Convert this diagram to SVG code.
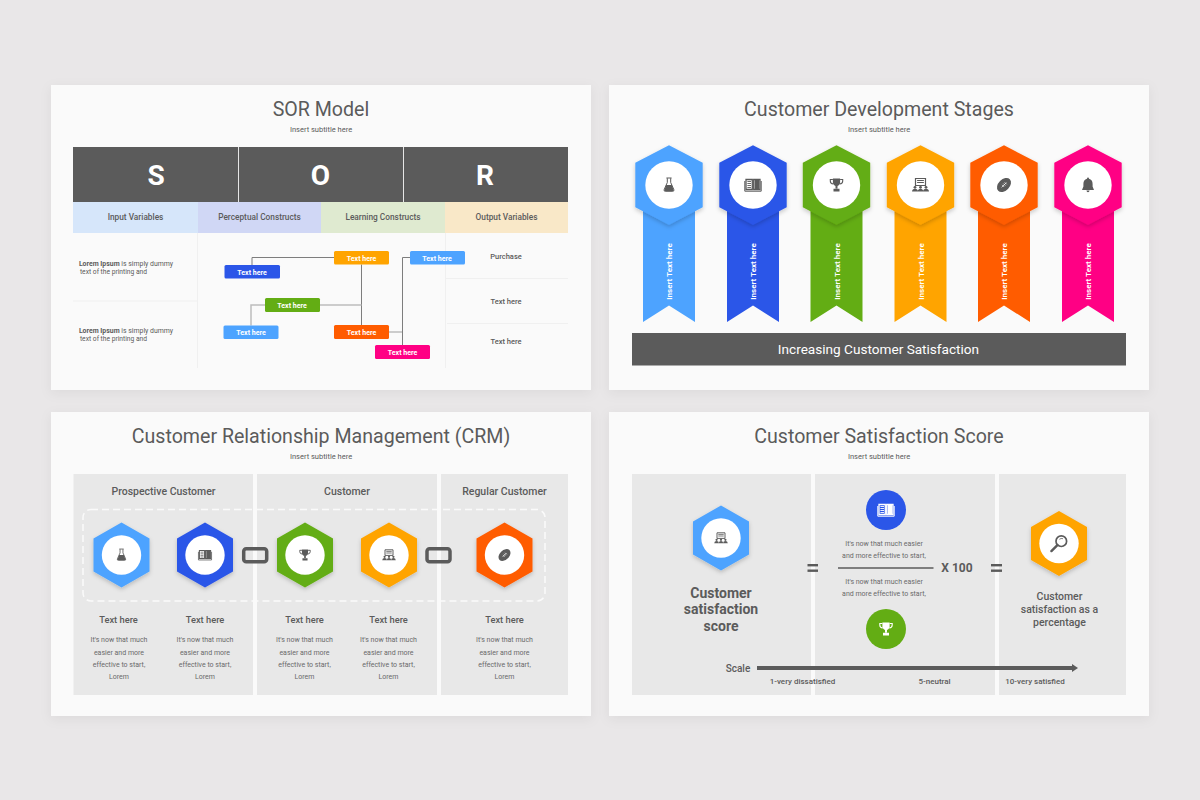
<svg xmlns="http://www.w3.org/2000/svg" xmlns:xlink="http://www.w3.org/1999/xlink" width="1200" height="800" viewBox="0 0 1200 800">
<style>
text{font-family:Roboto,"Liberation Sans",sans-serif;fill:#5b5b5b;text-anchor:middle}
.panel{fill:#fafafa;filter:url(#pshadow)}
.title{font-size:19.6px}
.sub{font-size:7.5px}
.dark{fill:#5b5b5b}
.col{fill:#e8e8e8}
.big{font-size:28px;font-weight:700;fill:#fff}
.sh{font-size:8.300px;font-weight:500}
.grid{stroke:#f0f0f0;stroke-width:1;fill:none}
.box{font-size:7px;font-weight:700;fill:#fff}
.conn{stroke:#7d7d7d;stroke-width:1;fill:none}
.connl{stroke:#bdbdbd;stroke-width:1.5;fill:none}
.lt{font-size:6.900px;font-weight:400}
.lt2{font-size:6.700px;font-weight:400}
.ltb{font-weight:700}
.rt{font-size:7.500px;font-weight:500}
.rib{font-size:8px;font-weight:700;fill:#fff}
.head{font-size:10.500px;font-weight:500}
.lab{font-size:9.300px;font-weight:500}
.body{font-size:7px;fill:#6a6a6a}
.link{fill:none;stroke:#5b5b5b;stroke-width:3.5}
.big3{font-size:14px;font-weight:700}
.mid3{font-size:10.5px;font-weight:500}
.scale{font-size:8px;font-weight:500}
</style>
<defs>
<filter id="pshadow" x="-5%" y="-5%" width="110%" height="112%"><feDropShadow dx="0" dy="3" stdDeviation="6" flood-color="#000" flood-opacity="0.06"/></filter>
<filter id="hs" x="-20%" y="-20%" width="140%" height="140%"><feDropShadow dx="0" dy="2" stdDeviation="2" flood-color="#000" flood-opacity="0.2"/></filter>
<marker id="arr" markerUnits="userSpaceOnUse" markerWidth="8" markerHeight="10" refX="1" refY="4" orient="auto"><path d="M0 0L6 4L0 8z" fill="#5b5b5b"/></marker>
<polygon id="hex" points="0,-32.5 28,-16.5 28,16.5 0,32.5 -28,16.5 -28,-16.5"/>
<polygon id="hexl" points="0,-39.7 33.7,-22.3 33.7,22.3 0,39.7 -33.7,22.3 -33.7,-22.3"/>
<polygon id="rib" points="-26,0 26,0 26,112 0,95.5 -26,112"/>
<g id="flask"><path d="M-2.6 -7h5.2M-1.7 -6.8v4.3L-4.8 4.5q-.6 1.8 1 1.8h7.6q1.6 0 1-1.8L1.7 -2.5v-4.3" fill="none" stroke="currentColor" stroke-width="1"/><path d="M-2.8 0h5.6L4.6 4.8q.3 1.2-.8 1.2h-7.6q-1.1 0-.8-1.2z" fill="currentColor"/></g>
<g id="book"><path d="M-7 -5.5h6.3v10H-7zM.7 -5.5H7v10H.7z" fill="none" stroke="currentColor" stroke-width="1.3"/><path d="M-5.6 -3.5h3.6M-5.6 -1.5h3.6M-5.6 .5h3.6M-5.6 2.5h3.6" stroke="currentColor" stroke-width=".9"/><path d="M1.6 -5h4.8v9H1.6z" fill="currentColor"/><path d="M-8.2 -4v10.2h16.4V-4" fill="none" stroke="currentColor" stroke-width="1"/></g>
<g id="trophy"><path d="M-3.6 -6.5h7.2v3.8q0 3.2-3.6 4q-3.6-.8-3.6-4z" fill="currentColor"/><path d="M-3.6 -5.5h-2.6v1.5q0 2.6 3 3M3.6 -5.5h2.6v1.5q0 2.6-3 3" fill="none" stroke="currentColor" stroke-width="1.1"/><path d="M-1 1h2v2.5h-2zM-3 3.8h6v2.7h-6z" fill="currentColor"/></g>
<g id="net"><path d="M-5 -6.5h10v7h-10z" fill="none" stroke="currentColor" stroke-width="1.2"/><path d="M-3.4 -4.5h6.8M-3.4 -2.5h6.8" stroke="currentColor" stroke-width="1"/><circle cx="-5.5" cy="2.3" r="1.4" fill="currentColor"/><circle cx="0" cy="2.3" r="1.4" fill="currentColor"/><circle cx="5.5" cy="2.3" r="1.4" fill="currentColor"/><path d="M-8.5 6.5q.3-2.8 3-2.8t3 2.8zM-2.8 6.5q.3-2.8 2.8-2.8t2.8 2.8zM2.5 6.5q.3-2.8 3-2.8t3 2.8z" fill="currentColor"/></g>
<g id="ball"><ellipse rx="8.200" ry="5.600" transform="rotate(-45)" fill="currentColor"/><path d="M-2.4 2.4L2.4 -2.4M-1.9 -.1l2 2M-.6 -1.4l2 2M.7 -2.7l2 2" stroke="#fff" stroke-width=".7"/></g>
<g id="bell"><path d="M0 -7.5q1 0 1 1.2q3.6 1 3.6 5.2v2.6L6 5H-6L-4.6 1.5v-2.6q0-4.2 3.6-5.2q0-1.2 1-1.2zM-1.6 5.6h3.2q-.3 1.6-1.6 1.6t-1.6-1.6z" fill="currentColor"/></g>
<g id="mag"><circle cx="2.3" cy="-2.3" r="5.3" fill="none" stroke="currentColor" stroke-width="1.7"/><path d="M-1.6 1.6L-7.6 7.6" stroke="currentColor" stroke-width="2.4" stroke-linecap="round"/><path d="M.4 -4.2q1.6-1.3 3.6-.6" fill="none" stroke="currentColor" stroke-width=".8"/></g>
</defs>

<rect width="1200" height="800" fill="#e9e7e8"/>

<g id="panel-sor">
<rect class="panel" x="51" y="85" width="540" height="305"/>
<text class="title" x="321" y="116">SOR Model</text>
<text class="sub" x="321" y="132">Insert subtitle here</text>
<rect class="dark" x="73" y="147" width="495" height="55"/>
<path d="M238.5 147V202M403.5 147V202" stroke="#e6e6e6" stroke-width="1"/>
<text class="big" x="156" y="184.500">S</text>
<text class="big" x="320.500" y="184.500">O</text>
<text class="big" x="485" y="184.500">R</text>
<rect x="73" y="202" width="125" height="31" fill="#d6e6fa"/>
<rect x="198" y="202" width="123" height="31" fill="#d0d7f5"/>
<rect x="321" y="202" width="124" height="31" fill="#dfead0"/>
<rect x="445" y="202" width="123" height="31" fill="#f9e8c8"/>
<text class="sh" x="135.500" y="220.300">Input Variables</text>
<text class="sh" x="259.500" y="220.300">Perceptual Constructs</text>
<text class="sh" x="383" y="220.300">Learning Constructs</text>
<text class="sh" x="506.500" y="220.300">Output Variables</text>
<path class="grid" d="M197.500 233V368M445.500 233V368M73 301H197M445 278.500H568M447 323.500H568"/>
<text x="126" y="266" class="lt"><tspan class="ltb">Lorem Ipsum</tspan> is simply dummy</text>
<text x="113.500" y="274" class="lt2">text of the printing and</text>
<text x="126" y="333" class="lt"><tspan class="ltb">Lorem Ipsum</tspan> is simply dummy</text>
<text x="113.500" y="341" class="lt2">text of the printing and</text>
<text class="rt" x="506" y="258.500">Purchase</text>
<text class="rt" x="506" y="303.500">Text here</text>
<text class="rt" x="506" y="344">Text here</text>
</g>

<g id="sor-connectors">
<path class="conn" d="M252 265V257.500H334"/>
<path class="conn" d="M361.500 264.500V325"/>
<path class="connl" d="M320 305H361.500"/>
<path class="connl" d="M265 305H251V325.500"/>
<path class="connl" d="M389 332H402.500"/>
<path class="conn" d="M402.500 345V257.500H410"/>
</g>

<g id="sor-n1"><rect x="334" y="251" width="55" height="13.500" rx="1.500" fill="#ffa400"/><text class="box" x="361.500" y="260.500">Text here</text></g>
<g id="sor-n2"><rect x="224.500" y="265" width="55.500" height="13.500" rx="1.500" fill="#2b56e8"/><text class="box" x="252" y="274.500">Text here</text></g>
<g id="sor-n3"><rect x="410" y="251" width="55" height="13.500" rx="1.500" fill="#4da3ff"/><text class="box" x="437" y="260.500">Text here</text></g>
<g id="sor-n4"><rect x="265" y="298" width="55" height="14" rx="1.500" fill="#63ad14"/><text class="box" x="292" y="307.500">Text here</text></g>
<g id="sor-n5"><rect x="223.500" y="325.500" width="55" height="13.500" rx="1.500" fill="#4da3ff"/><text class="box" x="251" y="335">Text here</text></g>
<g id="sor-n6"><rect x="334" y="325" width="55" height="14" rx="1.500" fill="#ff5c00"/><text class="box" x="361.500" y="334.500">Text here</text></g>
<g id="sor-n7"><rect x="375" y="345" width="55" height="14" rx="1.500" fill="#ff0084"/><text class="box" x="402.500" y="354.500">Text here</text></g>

<g id="panel-stages">
<rect class="panel" x="609" y="85" width="540" height="305"/>
<text class="title" x="879" y="116">Customer Development Stages</text>
<text class="sub" x="879" y="132">Insert subtitle here</text>
</g>
<g id="stage-1" fill="#4da3ff"><use href="#rib" x="669" y="210"/><use href="#hexl" x="669" y="185" filter="url(#hs)"/><circle cx="669" cy="185" r="23.700" fill="#fff"/><use href="#flask" x="669" y="185" color="#5b5b5b"/><text class="rib" transform="translate(672 271.500) rotate(-90)">Insert Text here</text></g>
<g id="stage-2" fill="#2b56e8"><use href="#rib" x="753" y="210"/><use href="#hexl" x="753" y="185" filter="url(#hs)"/><circle cx="753" cy="185" r="23.700" fill="#fff"/><use href="#book" x="753" y="185" color="#5b5b5b"/><text class="rib" transform="translate(756 271.500) rotate(-90)">Insert Text here</text></g>
<g id="stage-3" fill="#63ad14"><use href="#rib" x="836.500" y="210"/><use href="#hexl" x="836.500" y="185" filter="url(#hs)"/><circle cx="836.500" cy="185" r="23.700" fill="#fff"/><use href="#trophy" x="836.500" y="185" color="#5b5b5b"/><text class="rib" transform="translate(839.500 271.500) rotate(-90)">Insert Text here</text></g>
<g id="stage-4" fill="#ffa400"><use href="#rib" x="920.500" y="210"/><use href="#hexl" x="920.500" y="185" filter="url(#hs)"/><circle cx="920.500" cy="185" r="23.700" fill="#fff"/><use href="#net" x="920.500" y="185" color="#5b5b5b"/><text class="rib" transform="translate(923.500 271.500) rotate(-90)">Insert Text here</text></g>
<g id="stage-5" fill="#ff5c00"><use href="#rib" x="1004" y="210"/><use href="#hexl" x="1004" y="185" filter="url(#hs)"/><circle cx="1004" cy="185" r="23.700" fill="#fff"/><use href="#ball" x="1004" y="185" color="#5b5b5b"/><text class="rib" transform="translate(1007 271.500) rotate(-90)">Insert Text here</text></g>
<g id="stage-6" fill="#ff0084"><use href="#rib" x="1088" y="210"/><use href="#hexl" x="1088" y="185" filter="url(#hs)"/><circle cx="1088" cy="185" r="23.700" fill="#fff"/><use href="#bell" x="1088" y="185" color="#5b5b5b"/><text class="rib" transform="translate(1091 271.500) rotate(-90)">Insert Text here</text></g>
<g id="stage-bar"><rect class="dark" x="632" y="333" width="494" height="32.500"/><text x="878.500" y="354.300" font-size="13.600" style="fill:#fff">Increasing Customer Satisfaction</text></g>

<g id="panel-crm">
<rect class="panel" x="51" y="412" width="540" height="304"/>
<text class="title" x="321" y="443">Customer Relationship Management (CRM)</text>
<text class="sub" x="321" y="459">Insert subtitle here</text>
<rect class="col" x="73.500" y="474" width="179.500" height="221"/>
<rect class="col" x="257" y="474" width="180" height="221"/>
<rect class="col" x="441" y="474" width="127" height="221"/>
<text class="head" x="163.500" y="495.300">Prospective Customer</text>
<text class="head" x="347" y="495.300">Customer</text>
<text class="head" x="504.500" y="495.300">Regular Customer</text>
<rect x="83" y="509.500" width="462" height="91.500" rx="8" fill="none" stroke="#fafafa" stroke-width="1.500" stroke-dasharray="7 4"/>
</g>
<g id="crm-n1" fill="#4da3ff"><use href="#hex" x="121.500" y="555" filter="url(#hs)"/><circle cx="121.500" cy="555" r="19.700" fill="#fff"/><use href="#flask" transform="translate(121.500 555) scale(.85)" color="#5b5b5b"/><text class="lab" x="118.500" y="623">Text here</text><text class="body" x="119" y="642">It's now that much</text><text class="body" x="119" y="654.500">easier and more</text><text class="body" x="119" y="666.500">effective to start,</text><text class="body" x="119" y="678.500">Lorem</text></g>
<g id="crm-n2" fill="#2b56e8"><use href="#hex" x="205" y="555" filter="url(#hs)"/><circle cx="205" cy="555" r="19.700" fill="#fff"/><use href="#book" transform="translate(205 555) scale(.8)" color="#5b5b5b"/><text class="lab" x="205" y="623">Text here</text><text class="body" x="205" y="642">It's now that much</text><text class="body" x="205" y="654.500">easier and more</text><text class="body" x="205" y="666.500">effective to start,</text><text class="body" x="205" y="678.500">Lorem</text></g>
<g id="crm-n3" fill="#63ad14"><use href="#hex" x="305" y="555" filter="url(#hs)"/><circle cx="305" cy="555" r="19.700" fill="#fff"/><use href="#trophy" transform="translate(305 555) scale(.85)" color="#5b5b5b"/><text class="lab" x="304.500" y="623">Text here</text><text class="body" x="304.500" y="642">It's now that much</text><text class="body" x="304.500" y="654.500">easier and more</text><text class="body" x="304.500" y="666.500">effective to start,</text><text class="body" x="304.500" y="678.500">Lorem</text></g>
<g id="crm-n4" fill="#ffa400"><use href="#hex" x="389" y="555" filter="url(#hs)"/><circle cx="389" cy="555" r="19.700" fill="#fff"/><use href="#net" transform="translate(389 555) scale(.8)" color="#5b5b5b"/><text class="lab" x="388.500" y="623">Text here</text><text class="body" x="388.500" y="642">It's now that much</text><text class="body" x="388.500" y="654.500">easier and more</text><text class="body" x="388.500" y="666.500">effective to start,</text><text class="body" x="388.500" y="678.500">Lorem</text></g>
<g id="crm-n5" fill="#ff5c00"><use href="#hex" x="504.500" y="555" filter="url(#hs)"/><circle cx="504.500" cy="555" r="19.700" fill="#fff"/><use href="#ball" transform="translate(504.500 555) scale(.85)" color="#5b5b5b"/><text class="lab" x="504.500" y="623">Text here</text><text class="body" x="504.500" y="642">It's now that much</text><text class="body" x="504.500" y="654.500">easier and more</text><text class="body" x="504.500" y="666.500">effective to start,</text><text class="body" x="504.500" y="678.500">Lorem</text></g>
<g id="crm-connectors">
<rect class="link" x="243.700" y="548.700" width="23" height="13" rx="2.500"/>
<rect class="link" x="427" y="548.700" width="23" height="13" rx="2.500"/>
</g>

<g id="panel-score">
<rect class="panel" x="609" y="412" width="540" height="304"/>
<text class="title" x="879" y="443">Customer Satisfaction Score</text>
<text class="sub" x="879" y="459">Insert subtitle here</text>
<rect class="col" x="632" y="474" width="179" height="221"/>
<rect class="col" x="815" y="474" width="180" height="221"/>
<rect class="col" x="999" y="474" width="127" height="221"/>
</g>
<g id="score-left" fill="#4da3ff"><use href="#hex" x="721" y="538" filter="url(#hs)"/><circle cx="721" cy="538" r="19.700" fill="#fff"/><use href="#net" transform="translate(721 538) scale(.8)" color="#5b5b5b"/><text class="big3" x="721" y="598">Customer</text><text class="big3" x="721" y="614">satisfaction</text><text class="big3" x="721" y="630.500">score</text></g>
<g id="score-fraction">
<rect class="dark" x="807.500" y="564" width="10.500" height="2.400"/><rect class="dark" x="807.500" y="569.500" width="10.500" height="2.400"/>
<g fill="#2b56e8"><circle cx="886" cy="510" r="20"/><use href="#book" x="886" y="510" color="#fff"/></g>
<text class="body" x="884" y="545.500">It's now that much easier</text><text class="body" x="884" y="558">and more effective to start,</text>
<path d="M838 568H933.500" stroke="#5b5b5b" stroke-width="1.300"/>
<text class="body" x="884" y="583.500">It's now that much easier</text><text class="body" x="884" y="596">and more effective to start,</text>
<g fill="#63ad14"><circle cx="886" cy="629" r="20"/><use href="#trophy" x="886" y="629" color="#fff"/></g>
<text x="957" y="571.500" font-size="12" font-weight="700">X 100</text>
<rect class="dark" x="991" y="564" width="11" height="2.400"/><rect class="dark" x="991" y="569.500" width="11" height="2.400"/>
</g>
<g id="score-right" fill="#ffa400"><use href="#hex" x="1059" y="543.500" filter="url(#hs)"/><circle cx="1059" cy="543.500" r="19.700" fill="#fff"/><use href="#mag" x="1059" y="543.500" color="#5b5b5b"/><text class="mid3" x="1059.500" y="600">Customer</text><text class="mid3" x="1059.500" y="613">satisfaction as a</text><text class="mid3" x="1059.500" y="625.500">percentage</text></g>
<g id="score-scale">
<text x="738" y="671.500" font-size="10" font-weight="500">Scale</text>
<path d="M757 668H1073" stroke="#5b5b5b" stroke-width="4" fill="none" marker-end="url(#arr)"/>
<text class="scale" x="802.500" y="684">1-very dissatisfied</text>
<text class="scale" x="934.500" y="684">5-neutral</text>
<text class="scale" x="1035" y="684">10-very satisfied</text>
</g>
</svg>
